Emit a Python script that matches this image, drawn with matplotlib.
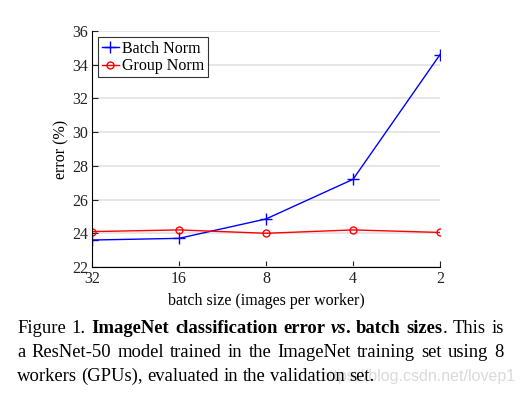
import matplotlib
matplotlib.use('Agg')
import matplotlib.pyplot as plt

batch_labels = ['32', '16', '8', '4', '2']
bn_error = [23.6, 23.7, 24.85, 27.2, 34.6]
gn_error = [24.1, 24.2, 24.0, 24.2, 24.05]
y_ticks = [22, 24, 26, 28, 30, 32, 34, 36]

plt.rcParams['font.family'] = 'Liberation Serif'

W, H = 528, 395
fig = plt.figure(figsize=(W / 100, H / 100), dpi=100)
ax = fig.add_axes([92 / W, 1 - 267 / H, 348 / W, 236 / H])

x = list(range(len(batch_labels)))
ax.plot(x, bn_error, color='blue', marker='+', markersize=9, linewidth=1, label='Batch Norm')
ax.plot(x, gn_error, color='red', marker='o', markersize=5, mfc='none', linewidth=1, label='Group Norm')

ax.set_xlim(0, 4)
ax.set_ylim(22, 36)
ax.set_xticks(x)
ax.set_xticklabels(batch_labels)
ax.set_yticks(y_ticks)
ax.yaxis.grid(True, color='#e4e4e4', linewidth=1.3)
ax.set_axisbelow(True)
for s in ['top', 'right']:
    ax.spines[s].set_visible(False)
ax.tick_params(direction='in', length=4, labelsize=11.5, colors='#222222', pad=3)
ax.set_xlabel('batch size (images per worker)', fontsize=11.5, labelpad=4)
ax.set_ylabel('error (%)', fontsize=11.5, labelpad=2)

leg = ax.legend(loc='upper left', fontsize=11.5, frameon=True, fancybox=False,
                edgecolor='black', borderpad=0.2, handlelength=1.1, handletextpad=0.2,
                labelspacing=0.1, borderaxespad=0.4)
leg.get_frame().set_linewidth(0.8)

# caption, justified by hand
renderer = fig.canvas.get_renderer()
N, B, BI = ('normal', 'normal'), ('bold', 'normal'), ('bold', 'italic')
line1 = [[('Figure', N)], [('1.', N)], [('ImageNet', B)], [('classification', B)],
         [('error', B)], [('vs', BI), ('.', B)], [('batch', B)], [('sizes', B), ('.', N)],
         [('This', N)], [('is', N)]]
line2 = [[(w, N)] for w in 'a ResNet-50 model trained in the ImageNet training set using 8'.split()]
line3 = [[(w, N)] for w in 'workers (GPUs), evaluated in the validation set.'.split()]

cap_size = 13.4
x_left, x_right = 17, 504


def seg_width(txt, st):
    t = fig.text(0, 0, txt, fontsize=cap_size, fontweight=st[0], fontstyle=st[1])
    w = t.get_window_extent(renderer).width
    t.remove()
    if st == BI:
        w -= 1  # italic overhang
    return w


def draw_line(tokens, y_base, justify):
    widths = [sum(seg_width(s, st) for s, st in tok) for tok in tokens]
    space = seg_width('a a', N) - 2 * seg_width('a', N)
    if justify:
        gap = (x_right - x_left - sum(widths)) / (len(tokens) - 1)
    else:
        gap = space
    xp = x_left
    for tok, w in zip(tokens, widths):
        xs = xp
        for s, st in tok:
            fig.text(xs / W, 1 - y_base / H, s, fontsize=cap_size, fontweight=st[0],
                     fontstyle=st[1], va='baseline', ha='left')
            xs += seg_width(s, st)
        xp += w + gap


# faint watermark under the last caption line
fig.text(516 / W, 1 - 381 / H, 'https://blog.csdn.net/lovep1', fontsize=11.5,
         family='Liberation Sans', color='#dadada', va='baseline', ha='right', zorder=-1)

draw_line(line1, 333, True)
draw_line(line2, 357, True)
draw_line(line3, 381, False)

fig.savefig('out.png', dpi=100)
